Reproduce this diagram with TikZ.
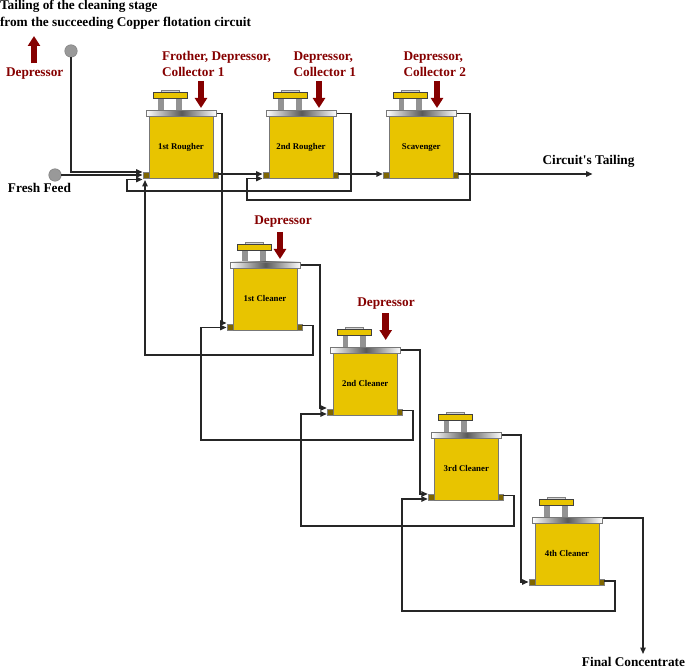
\documentclass[tikz,border=0pt]{standalone}
\usepackage{fontspec}
\setmainfont{Liberation Serif}
\usetikzlibrary{arrows.meta}
\definecolor{cellyellow}{HTML}{E8C400}
\definecolor{reagent}{HTML}{850000}
\definecolor{portbrown}{HTML}{7F6600}
\definecolor{edgegray}{HTML}{777777}
\tikzset{
  part/.style={draw=edgegray,line width=0.7pt,inner sep=0pt,outer sep=0pt,anchor=north west,rectangle},
  body/.style={part,fill=cellyellow,minimum width=64pt,minimum height=62pt,font=\bfseries\fontsize{8.8}{10}\selectfont,text=black},
  lid/.style={part,left color=white,right color=white,middle color=gray!70!black,minimum width=70pt,minimum height=6pt},
  leg/.style={fill=gray!85,draw=none,inner sep=0pt,outer sep=0pt,anchor=north west,rectangle,minimum width=5.5pt,minimum height=12pt},
  capplate/.style={draw=black!75,line width=0.6pt,fill=cellyellow,inner sep=0pt,outer sep=0pt,anchor=north west,rectangle,minimum width=34pt,minimum height=6pt},
  captop/.style={draw=gray,line width=0.5pt,fill=gray!35,inner sep=0pt,outer sep=0pt,anchor=north west,rectangle,minimum width=18pt,minimum height=2.3pt},
  port/.style={fill=portbrown,draw=gray,line width=0.8pt,inner sep=0pt,outer sep=0pt,anchor=north west,rectangle,minimum width=6pt,minimum height=6pt},
  feed/.style={circle,fill=gray!80,draw=gray,line width=0.5pt,minimum size=12.5pt,inner sep=0pt,outer sep=0pt},
  flow/.style={draw=black!85,line width=1.4pt,line join=miter},
  flowin/.style={flow,-{Triangle[length=6.5pt,width=5.5pt]}},
  fat/.style={draw=reagent,line width=6.5pt,-{Triangle[length=10pt,width=12pt]}},
  lab/.style={font=\bfseries\fontsize{13.3}{16}\selectfont,inner sep=0pt,outer sep=0pt,text=black,anchor=base west},
  redlab/.style={lab,text=reagent},
}
% #1 name, #2 body left, #3 body top, #4 label
\newcommand{\cell}[4]{%
  \node[leg] (#1-lega) at (#2+9.3,#3-18) {};
  \node[leg] (#1-legb) at (#2+27,#3-18) {};
  \node[captop] (#1-top) at (#2+12.3,#3-26.2) {};
  \node[capplate] (#1-cap) at (#2+4.3,#3-23.8) {};
  \node[lid] (#1-lid) at (#2-2.5,#3-6) {};
  \node[port] (#1-l) at (#2-6,#3+56) {};
  \node[port] (#1-r) at (#2+63.5,#3+56) {};
  \node[body] (#1) at (#2,#3) {\raisebox{1.5pt}{#4}};
  \coordinate (#1-in) at (#2-6.5,#3+59);
  \coordinate (#1-out) at (#2+69,#3+57.5);
}
\begin{document}
\begin{tikzpicture}[x=1pt,y=-1pt]
\useasboundingbox (0,0) rectangle (685,668);
\cell{ra}{149}{116.5}{1st Rougher}
\cell{rb}{269}{116.5}{2nd Rougher}
\cell{sc}{389.3}{116.5}{Scavenger}
\cell{ca}{233}{268}{1st Cleaner}
\cell{cb}{333.3}{353}{2nd Cleaner}
\cell{cc}{434.3}{438}{3rd Cleaner}
\cell{cd}{535}{523.3}{4th Cleaner}

\node[feed] (fa) at (71,51) {};
\node[feed] (fb) at (55,175) {};

% labels
\node[lab] (t1) at (0,10) {Tailing of the cleaning stage};
\node[lab] (t2) at (0,26.5) {from the succeeding Copper flotation circuit};
\node[lab] (ff) at (8,193) {Fresh Feed};
\node[lab] (ct) at (542.5,164.5) {Circuit\textquotesingle s Tailing};
\node[lab,anchor=base east] (fc) at (685,666.5) {Final Concentrate};
\node[redlab] (d0) at (6,76.7) {Depressor};
\node[redlab] (d1a) at (162,60.7) {Frother, Depressor,};
\node[redlab] (d1b) at (162,77) {Collector 1};
\node[redlab] (d2a) at (293.5,60.7) {Depressor,};
\node[redlab] (d2b) at (293.5,77) {Collector 1};
\node[redlab] (d3a) at (403.5,60.7) {Depressor,};
\node[redlab] (d3b) at (403.5,77) {Collector 2};
\node[redlab,anchor=base] (d4) at (283,225) {Depressor};
\node[redlab,anchor=base] (d5) at (386,306.7) {Depressor};

% reagent arrows
\coordinate (a0s) at (34,63.5); \coordinate (a0e) at (34,36);
\coordinate (a1s) at (201,81);  \coordinate (a1e) at (201,108);
\coordinate (a2s) at (319,81);  \coordinate (a2e) at (319,108);
\coordinate (a3s) at (437,81);  \coordinate (a3e) at (437,108);
\coordinate (a4s) at (280,232); \coordinate (a4e) at (280,259);
\coordinate (a5s) at (385.7,313); \coordinate (a5e) at (385.7,340);
\foreach \p in {0,...,5} {\draw[fat] (a\p s) -- (a\p e);}

% end points
\coordinate (taile) at (592.5,174);
\coordinate (fce) at (643,654);
\coordinate (rain3) at (145,180);

% flows
\draw[flowin] (fa.south) |- (ra-in |- 0,172);
\draw[flowin] (fb.east) -- (ra-in |- fb.east);
\draw[flowin] (rb-lid.east) -| (351,191) -| (127,179.5) -- (ra-in |- 0,179.5);
\draw[flowin] (ca-out) -| (313,355) -| (rain3);
\draw[flowin] (ra-lid.east) -| (222,323) -- (ca-in |- 0,323);
\draw[flowin] (ra-out) -- (rb-in |- ra-out);
\draw[flowin] (sc-lid.east) -| (470,200) -| (247,178.5) -- (rb-in |- 0,178.5);
\draw[flowin] (rb-out) -- (sc-in |- rb-out);
\draw[flowin] (sc-out) -- (taile |- sc-out);
\draw[flowin] (ca-lid.east) -| (320,408) -- (cb-in |- 0,408);
\draw[flowin] (cb-out) -| (413,440) -| (201,327.5) -- (ca-in |- 0,327.5);
\draw[flowin] (cb-lid.east) -| (420,494) -- (cc-in |- 0,494);
\draw[flowin] (cc-out) -| (514,526) -| (301,414) -- (cb-in |- 0,414);
\draw[flowin] (cc-lid.east) -| (521,582) -- (cd-in |- 0,582);
\draw[flowin] (cd-out) -| (615,611) -| (402,499) -- (cc-in |- 0,499);
\draw[flowin] (cd-lid.east |- 0,518) -| (fce);
\end{tikzpicture}
\end{document}
